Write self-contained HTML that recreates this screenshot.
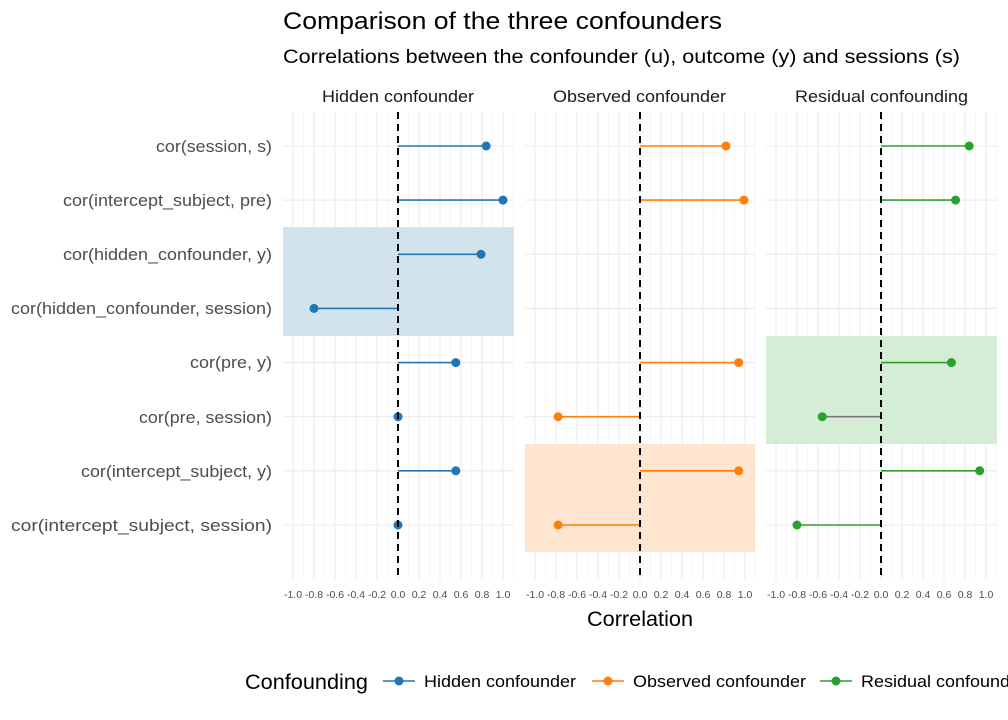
<!DOCTYPE html>
<html><head><meta charset="utf-8"><style>
body{margin:0;background:#fff;}
svg{display:block;font-family:"Liberation Sans",sans-serif;}
.t{font-size:10.5px;fill:#4d4d4d;text-anchor:middle}
.r{font-size:17px;fill:#4d4d4d;text-anchor:end}
</style></head><body>
<svg width="1008" height="720" xmlns="http://www.w3.org/2000/svg">
<text x="283" y="29" font-size="24" fill="#000" textLength="439" lengthAdjust="spacingAndGlyphs">Comparison of the three confounders</text>
<text x="283" y="63" font-size="19.5" fill="#000" textLength="677" lengthAdjust="spacingAndGlyphs">Correlations between the confounder (u), outcome (y) and sessions (s)</text>

<text class="r" x="272" y="152" textLength="116" lengthAdjust="spacingAndGlyphs">cor(session, s)</text>
<text class="r" x="272" y="206" textLength="209" lengthAdjust="spacingAndGlyphs">cor(intercept_subject, pre)</text>
<text class="r" x="272" y="260" textLength="209" lengthAdjust="spacingAndGlyphs">cor(hidden_confounder, y)</text>
<text class="r" x="272" y="314" textLength="261" lengthAdjust="spacingAndGlyphs">cor(hidden_confounder, session)</text>
<text class="r" x="272" y="368" textLength="82" lengthAdjust="spacingAndGlyphs">cor(pre, y)</text>
<text class="r" x="272" y="423" textLength="133" lengthAdjust="spacingAndGlyphs">cor(pre, session)</text>
<text class="r" x="272" y="477" textLength="191" lengthAdjust="spacingAndGlyphs">cor(intercept_subject, y)</text>
<text class="r" x="272" y="531" textLength="261" lengthAdjust="spacingAndGlyphs">cor(intercept_subject, session)</text>

<text x="322" y="102" font-size="17" fill="#1a1a1a" textLength="152" lengthAdjust="spacingAndGlyphs">Hidden confounder</text>
<text x="553" y="102" font-size="17" fill="#1a1a1a" textLength="173" lengthAdjust="spacingAndGlyphs">Observed confounder</text>
<text x="795" y="102" font-size="17" fill="#1a1a1a" textLength="173" lengthAdjust="spacingAndGlyphs">Residual confounding</text>

<path fill="none" stroke="#f3f3f3" stroke-width="0.7" d="M303.5 112V580M324.5 112V580M345.5 112V580M366.5 112V580M387.5 112V580M408.5 112V580M429.5 112V580M450.5 112V580M471.5 112V580M492.5 112V580M513.5 112V580M545.5 112V580M566.5 112V580M587.5 112V580M608.5 112V580M629.5 112V580M650.5 112V580M671.5 112V580M692.5 112V580M713.5 112V580M734.5 112V580M755 112V580M786.5 112V580M807.5 112V580M828.5 112V580M849.5 112V580M870.5 112V580M891.5 112V580M912.5 112V580M933.5 112V580M954.5 112V580M975.5 112V580M996.5 112V580"/>
<path fill="none" stroke="#ebebeb" stroke-width="1.1" d="M293 112V580M314 112V580M335 112V580M356 112V580M377 112V580M398 112V580M419 112V580M440 112V580M461 112V580M482 112V580M503 112V580M535 112V580M556 112V580M577 112V580M598 112V580M619 112V580M640 112V580M661 112V580M682 112V580M703 112V580M724 112V580M745 112V580M776 112V580M797 112V580M818 112V580M839 112V580M860 112V580M881 112V580M902 112V580M923 112V580M944 112V580M965 112V580M986 112V580"/>
<path fill="none" stroke="#ebebeb" stroke-width="1.1" d="M283 146H514M283 200.1H514M283 254.3H514M283 308.4H514M283 362.6H514M283 416.7H514M283 470.8H514M283 525H514M525 146H755M525 200.1H755M525 254.3H755M525 308.4H755M525 362.6H755M525 416.7H755M525 470.8H755M525 525H755M766 146H997M766 200.1H997M766 254.3H997M766 308.4H997M766 362.6H997M766 416.7H997M766 470.8H997M766 525H997"/>

<rect x="283" y="227" width="231" height="109" fill="#cfe1ed" opacity="0.92"/>
<rect x="525" y="444" width="230" height="108" fill="#fde3cc" opacity="0.92"/>
<rect x="766" y="336" width="231" height="108" fill="#d3ebd1" opacity="0.92"/>

<g stroke="#1f77b4" stroke-width="1.6" fill="#1f77b4">
<line x1="398" y1="146" x2="486.2" y2="146"/><circle cx="486.2" cy="146" r="4.5" stroke="none"/>
<line x1="398" y1="200.1" x2="503" y2="200.1"/><circle cx="503" cy="200.1" r="4.5" stroke="none"/>
<line x1="398" y1="254.3" x2="481" y2="254.3"/><circle cx="481" cy="254.3" r="4.5" stroke="none"/>
<line x1="398" y1="308.4" x2="314" y2="308.4"/><circle cx="314" cy="308.4" r="4.5" stroke="none"/>
<line x1="398" y1="362.6" x2="455.8" y2="362.6"/><circle cx="455.8" cy="362.6" r="4.5" stroke="none"/>
<circle cx="398" cy="416.7" r="4.5" stroke="none"/>
<line x1="398" y1="470.8" x2="455.8" y2="470.8"/><circle cx="455.8" cy="470.8" r="4.5" stroke="none"/>
<circle cx="398" cy="525" r="4.5" stroke="none"/>
</g>
<g stroke="#ff7f0e" stroke-width="1.6" fill="#ff7f0e">
<line x1="640" y1="146" x2="726" y2="146"/><circle cx="726" cy="146" r="4.5" stroke="none"/>
<line x1="640" y1="200.1" x2="744" y2="200.1"/><circle cx="744" cy="200.1" r="4.5" stroke="none"/>
<line x1="640" y1="362.6" x2="738.7" y2="362.6"/><circle cx="738.7" cy="362.6" r="4.5" stroke="none"/>
<line x1="640" y1="416.7" x2="558.1" y2="416.7"/><circle cx="558.1" cy="416.7" r="4.5" stroke="none"/>
<line x1="640" y1="470.8" x2="738.7" y2="470.8"/><circle cx="738.7" cy="470.8" r="4.5" stroke="none"/>
<line x1="640" y1="525" x2="558.1" y2="525"/><circle cx="558.1" cy="525" r="4.5" stroke="none"/>
</g>
<g stroke="#2ca02c" stroke-width="1.6" fill="#2ca02c">
<line x1="881" y1="146" x2="969.2" y2="146"/><circle cx="969.2" cy="146" r="4.5" stroke="none"/>
<line x1="881" y1="200.1" x2="955.6" y2="200.1"/><circle cx="955.6" cy="200.1" r="4.5" stroke="none"/>
<line x1="881" y1="362.6" x2="951.4" y2="362.6"/><circle cx="951.4" cy="362.6" r="4.5" stroke="none"/>
<line x1="881" y1="416.7" x2="822.2" y2="416.7" stroke="#777"/><circle cx="822.2" cy="416.7" r="4.5" stroke="none"/>
<line x1="881" y1="470.8" x2="979.7" y2="470.8"/><circle cx="979.7" cy="470.8" r="4.5" stroke="none"/>
<line x1="881" y1="525" x2="797" y2="525"/><circle cx="797" cy="525" r="4.5" stroke="none"/>
</g>

<path fill="none" stroke="#000" stroke-width="2" stroke-dasharray="7,5" d="M398 112V580M640 112V580M881 112V580"/>

<text class="t" x="293" y="598">-1.0</text><text class="t" x="314" y="598">-0.8</text><text class="t" x="335" y="598">-0.6</text><text class="t" x="356" y="598">-0.4</text><text class="t" x="377" y="598">-0.2</text><text class="t" x="398" y="598">0.0</text><text class="t" x="419" y="598">0.2</text><text class="t" x="440" y="598">0.4</text><text class="t" x="461" y="598">0.6</text><text class="t" x="482" y="598">0.8</text><text class="t" x="503" y="598">1.0</text>
<text class="t" x="535" y="598">-1.0</text><text class="t" x="556" y="598">-0.8</text><text class="t" x="577" y="598">-0.6</text><text class="t" x="598" y="598">-0.4</text><text class="t" x="619" y="598">-0.2</text><text class="t" x="640" y="598">0.0</text><text class="t" x="661" y="598">0.2</text><text class="t" x="682" y="598">0.4</text><text class="t" x="703" y="598">0.6</text><text class="t" x="724" y="598">0.8</text><text class="t" x="745" y="598">1.0</text>
<text class="t" x="776" y="598">-1.0</text><text class="t" x="797" y="598">-0.8</text><text class="t" x="818" y="598">-0.6</text><text class="t" x="839" y="598">-0.4</text><text class="t" x="860" y="598">-0.2</text><text class="t" x="881" y="598">0.0</text><text class="t" x="902" y="598">0.2</text><text class="t" x="923" y="598">0.4</text><text class="t" x="944" y="598">0.6</text><text class="t" x="965" y="598">0.8</text><text class="t" x="986" y="598">1.0</text>

<text x="587" y="626" font-size="21" fill="#000" textLength="106" lengthAdjust="spacingAndGlyphs">Correlation</text>

<text x="245" y="689" font-size="21" fill="#000" textLength="123" lengthAdjust="spacingAndGlyphs">Confounding</text>
<line x1="383" y1="681" x2="415" y2="681" stroke="#1f77b4" stroke-width="1.6"/><circle cx="399" cy="681" r="4.5" fill="#1f77b4"/>
<text x="424" y="687" font-size="17" fill="#000" textLength="152" lengthAdjust="spacingAndGlyphs">Hidden confounder</text>
<line x1="592" y1="681" x2="624" y2="681" stroke="#ff7f0e" stroke-width="1.6"/><circle cx="608" cy="681" r="4.5" fill="#ff7f0e"/>
<text x="633" y="687" font-size="17" fill="#000" textLength="173" lengthAdjust="spacingAndGlyphs">Observed confounder</text>
<line x1="820" y1="681" x2="852" y2="681" stroke="#2ca02c" stroke-width="1.6"/><circle cx="836" cy="681" r="4.5" fill="#2ca02c"/>
<text x="861" y="687" font-size="17" fill="#000" textLength="173" lengthAdjust="spacingAndGlyphs">Residual confounding</text>
</svg>
</body></html>
